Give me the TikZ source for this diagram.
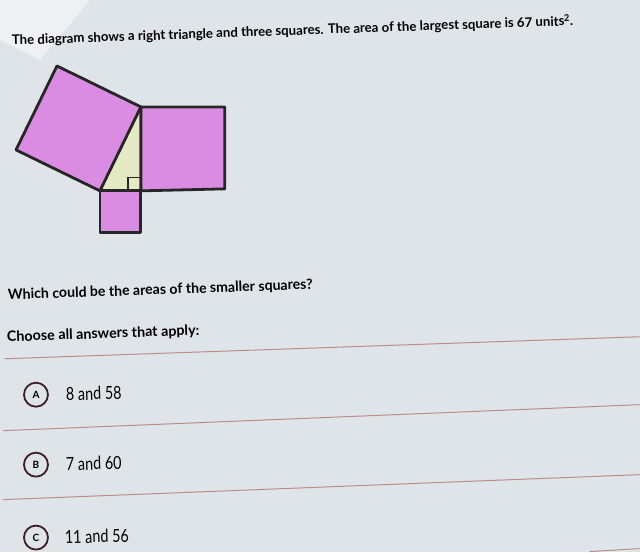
\documentclass[tikz,border=0pt]{standalone}
\usepackage{fontspec}
\setmainfont{Lato}
\begin{document}
\begin{tikzpicture}[x=1pt,y=-1pt]
\definecolor{bg}{RGB}{222,228,232}
\definecolor{sq}{RGB}{218,140,226}
\definecolor{tri}{RGB}{228,234,196}
\definecolor{rule}{RGB}{190,140,140}
\definecolor{ring}{RGB}{60,30,35}
\tikzset{
  sqbox/.style={fill=sq,draw=black!85,line width=2.8pt,line join=round},
  txt/.style={anchor=base west,rotate=2,inner sep=0pt,text=black},
  ans/.style={anchor=base west,inner sep=0pt,rotate=1.5,font=\fontsize{18}{18}\selectfont,xscale=0.8},
  letter/.style={circle,draw=ring,line width=1.8pt,minimum size=24pt,inner sep=0pt,font=\bfseries\fontsize{10}{10}\selectfont},
  sep/.style={draw=rule,line width=1pt}
}
\fill[bg] (0,0) rectangle (640,552);
\fill[white,opacity=0.5] (0,0) -- (90,0) -- (40,60) -- (0,40) -- cycle;
% triangle
\coordinate (A) at (100,191);
\coordinate (C) at (141,191);
\coordinate (B) at (141,107);
\coordinate (P) at (16,150);
\coordinate (Q) at (57,66);
\fill[tri] (A) -- (C) -- (B) -- cycle;
\draw[sqbox] (A) -- (B) -- (Q) -- (P) -- cycle;
\draw[sqbox] (B) -- (225,107) -- (225,189) -- (141,191) -- cycle;
\draw[sqbox] (A) -- (C) -- (141,233) -- (100,233) -- cycle;
\draw[draw=black!85,line width=1.2pt] (128,191) -- (128,178) -- (141,178);
\draw[draw=black!85,line width=2pt] (A) -- (B);
% texts
\node[txt,font=\bfseries\fontsize{13.2}{12}\selectfont] (t1) at (12,45) {The diagram shows a right triangle and three squares. The area of the largest square is 67 units\textsuperscript{2}.};
\node[txt,font=\bfseries\fontsize{14.1}{12}\selectfont] (t2) at (8,300) {Which could be the areas of the smaller squares?};
\node[txt,font=\bfseries\fontsize{14.3}{12}\selectfont] (t3) at (7,342) {Choose all answers that apply:};
% rules
\coordinate (l1a) at (5,359); \coordinate (l1b) at (640,337);
\coordinate (l2a) at (3,431); \coordinate (l2b) at (640,405);
\coordinate (l3a) at (3,500); \coordinate (l3b) at (640,475);
\draw[sep] (l1a) -- (l1b);
\draw[sep] (l2a) -- (l2b);
\draw[sep] (l3a) -- (l3b);
\coordinate (l4a) at (590,552); \coordinate (l4b) at (640,549);
\draw[sep] (l4a) -- (l4b);
% answers
\node[letter] (ca) at (36,395) {A};
\node[letter] (cb) at (36,465) {B};
\node[letter] (cc) at (36,538) {C};
\node[ans] (a1) at (66,401) {8 and 58};
\node[ans] (a2) at (66,471) {7 and 60};
\node[ans] (a3) at (65,544) {11 and 56};
\end{tikzpicture}
\end{document}
